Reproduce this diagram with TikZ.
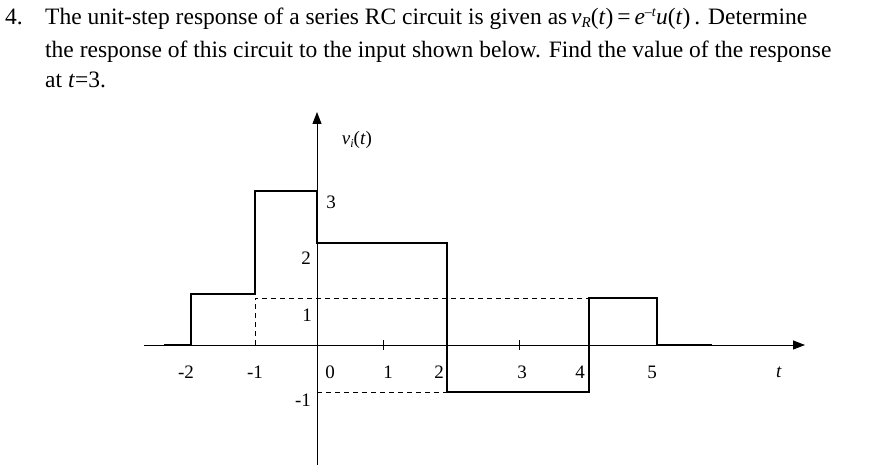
\documentclass[tikz,border=0pt]{standalone}
\usepackage{fontspec}
\setmainfont{Liberation Serif}
\usetikzlibrary{arrows.meta}
\begin{document}
\begin{tikzpicture}[x=1pt,y=-1pt,
  sig/.style={line width=2.6pt,line join=miter},
  ax/.style={line width=1pt},
  dsh/.style={dashed,line width=0.8pt,dash pattern=on 5pt off 4pt},
  lab/.style={font=\fontsize{19}{19}\selectfont,inner sep=0pt},
  ttl/.style={font=\fontsize{23.5}{23.5}\selectfont,inner sep=0pt,anchor=base west}]
\useasboundingbox (0,0) rectangle (870,470);
\node[ttl] (n4) at (5,25) {4.};
\node[ttl] (l1) at (45,25) {The unit-step response of a series RC circuit is given as\,\textit{v}\raisebox{-3pt}{\fontsize{15}{15}\selectfont\textit{R}}(\textit{t})\,=\,\textit{e}\raisebox{8pt}{\fontsize{14}{14}\selectfont\textit{--t}}\textit{u}(\textit{t})\,. Determine};
\node[ttl] (l2) at (45,58) {the response of this circuit to the input shown below. Find the value of the response};
\node[ttl] (l3) at (45,88) {at \textit{t}=3.};
% axes
\coordinate (xs) at (144,345); \coordinate (xe) at (805,345);
\coordinate (ys) at (317,465); \coordinate (ye) at (317,112);
\draw[ax,-{Triangle[length=12pt,width=9pt]}] (xs) -- (xe);
\draw[ax,-{Triangle[length=12pt,width=9pt]}] (ys) -- (ye);
\draw[ax] (383,340) -- (383,350);
\draw[ax] (519,340) -- (519,350);
% dashed guides
\draw[dsh] (255,345) -- (255,298) -- (589,298);
\draw[dsh] (317,392) -- (447,392);
% signal
\draw[sig] (164,345) -- (191,345) -- (191,294) -- (255,294) -- (255,191) -- (317,191) -- (317,243) -- (447,243) -- (447,392) -- (589,392) -- (589,298) -- (657,298) -- (657,345) -- (712,345);
% labels
\node[lab] (vl) at (357,140) {\textit{v}\raisebox{-3pt}{\fontsize{12}{12}\selectfont\textit{i}}(\textit{t})};
\node[lab] (y3) at (331,202) {3};
\node[lab] (y2) at (306,258) {2};
\node[lab] (y1) at (307,315) {1};
\node[lab] (ym) at (303,400) {-1};
\foreach \xx/\tt in {186/-2,255/-1,330/0,388/1,439/2,522/3,580/4,652/5}
  \node[lab] at (\xx,372) {\tt};
\node[lab] (tl) at (779,372) {\textit{t}};
\end{tikzpicture}
\end{document}
